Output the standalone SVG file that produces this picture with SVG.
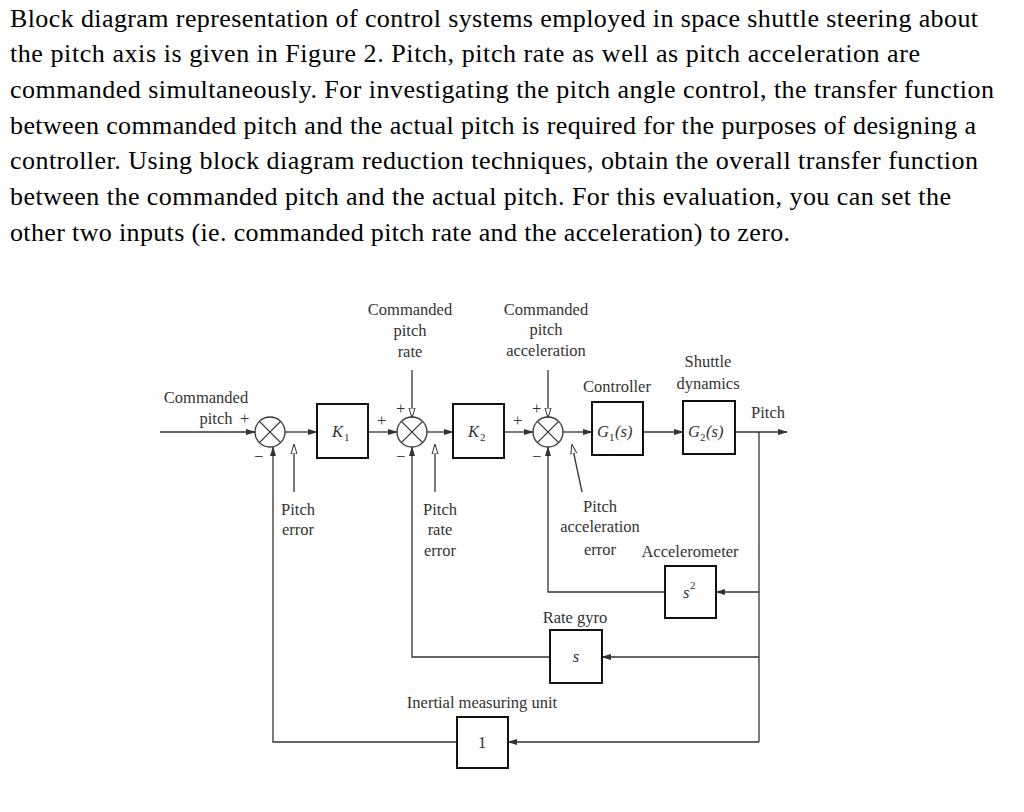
<svg xmlns="http://www.w3.org/2000/svg" width="1024" height="812" viewBox="0 0 1024 812">
<style>
.q{font-family:"Liberation Serif",serif;font-size:26px;fill:#000}
.t{font-family:"Liberation Serif",serif;font-size:16.5px;fill:#333}
.sub{font-family:"Liberation Serif",serif;font-size:11px;fill:#333}
.c{text-anchor:middle}
.i{font-style:italic}
.b{fill:#fff;stroke:#111;stroke-width:2}
.w{fill:none;stroke:#333;stroke-width:1.3}
.s{fill:#fff;stroke:#333;stroke-width:1.3}
</style>
<defs>
<marker id="a" markerWidth="10" markerHeight="8" refX="9" refY="4" orient="auto" markerUnits="userSpaceOnUse"><path d="M0,1 L10,4 L0,7 Z" fill="#333"/></marker>
<marker id="h" markerWidth="10" markerHeight="8" refX="9" refY="4" orient="auto" markerUnits="userSpaceOnUse"><path d="M0,1 L10,4 L0,7 Z" fill="#fff" stroke="#333"/></marker>
</defs>
<rect width="1024" height="812" fill="#fff"/>
<g id="question" class="q">
<text x="10" y="27" textLength="968" lengthAdjust="spacing">Block diagram representation of control systems employed in space shuttle steering about</text>
<text x="10" y="62" textLength="910" lengthAdjust="spacing">the pitch axis is given in Figure 2.  Pitch, pitch rate as well as pitch acceleration are</text>
<text x="10" y="98" textLength="984" lengthAdjust="spacing">commanded simultaneously.  For investigating the pitch angle control, the transfer function</text>
<text x="10" y="134" textLength="966" lengthAdjust="spacing">between commanded pitch and the actual pitch is required for the purposes of designing a</text>
<text x="10" y="169" textLength="968" lengthAdjust="spacing">controller.  Using block diagram reduction techniques, obtain the overall transfer function</text>
<text x="10" y="205" textLength="941" lengthAdjust="spacing">between the commanded pitch and the actual pitch.  For this evaluation, you can set the</text>
<text x="10" y="241" textLength="780" lengthAdjust="spacing">other two inputs (ie. commanded pitch rate and the acceleration) to zero.</text>
</g>
<g id="connectors" class="w">
<line x1="160" y1="432" x2="255" y2="432" marker-end="url(#a)"/>
<line x1="285" y1="432" x2="317" y2="432" marker-end="url(#a)"/>
<line x1="368" y1="432" x2="397" y2="432" marker-end="url(#a)"/>
<line x1="427" y1="432" x2="453" y2="432" marker-end="url(#a)"/>
<line x1="504" y1="432" x2="533" y2="432" marker-end="url(#a)"/>
<line x1="563" y1="432" x2="592" y2="432" marker-end="url(#a)"/>
<line x1="643" y1="432" x2="683" y2="432" marker-end="url(#a)"/>
<line x1="735" y1="432" x2="787" y2="432" marker-end="url(#a)"/>
<line x1="412" y1="370" x2="412" y2="417" marker-end="url(#h)"/>
<line x1="548" y1="370" x2="548" y2="417" marker-end="url(#h)"/>
<line x1="294" y1="492" x2="294" y2="445" marker-end="url(#h)"/>
<line x1="435" y1="492" x2="435" y2="445" marker-end="url(#h)"/>
<line x1="582" y1="492" x2="572" y2="445" marker-end="url(#h)"/>
<line x1="759" y1="432" x2="759" y2="742"/>
<line x1="759" y1="742" x2="508" y2="742" marker-end="url(#a)"/>
<line x1="759" y1="657" x2="602" y2="657" marker-end="url(#a)"/>
<line x1="759" y1="592" x2="716" y2="592" marker-end="url(#a)"/>
<polyline points="457,742 273,742 273,447" marker-end="url(#a)"/>
<polyline points="550,657 412,657 412,447" marker-end="url(#a)"/>
<polyline points="665,592 548,592 548,447" marker-end="url(#a)"/>
</g>
<g id="sum1"><circle class="s" cx="270" cy="432" r="15"/><path class="w" d="M259.4,421.4 L280.6,442.6 M280.6,421.4 L259.4,442.6"/></g>
<g id="sum2"><circle class="s" cx="412" cy="432" r="15"/><path class="w" d="M401.4,421.4 L422.6,442.6 M422.6,421.4 L401.4,442.6"/></g>
<g id="sum3"><circle class="s" cx="548" cy="432" r="15"/><path class="w" d="M537.4,421.4 L558.6,442.6 M558.6,421.4 L537.4,442.6"/></g>
<g id="K1"><rect class="b" x="317" y="404" width="51" height="54"/><text class="t i" x="332" y="437">K</text><text class="sub" x="344" y="441">1</text></g>
<g id="K2"><rect class="b" x="453" y="404" width="51" height="54"/><text class="t i" x="468" y="437">K</text><text class="sub" x="480" y="441">2</text></g>
<g id="G1"><rect class="b" x="592" y="402" width="51" height="53"/><text class="t i" x="597" y="437">G</text><text class="sub" x="609" y="441">1</text><text class="t i" x="615" y="437">(s)</text></g>
<g id="G2"><rect class="b" x="683" y="401" width="52" height="53"/><text class="t i" x="688" y="437">G</text><text class="sub" x="700" y="441">2</text><text class="t i" x="706" y="437">(s)</text></g>
<g id="accel"><rect class="b" x="665" y="566" width="51" height="52"/><text class="t i" x="683" y="598">s</text><text class="sub" x="690" y="589">2</text></g>
<g id="gyro"><rect class="b" x="550" y="630" width="52" height="53"/><text class="t i c" x="576" y="662">s</text></g>
<g id="imu"><rect class="b" x="457" y="717" width="51" height="51"/><text class="t c" x="482" y="748">1</text></g>
<g id="labels" class="t">
<text class="c" x="206" y="403">Commanded</text><text class="c" x="216" y="424">pitch</text>
<text x="240" y="424">+</text><text x="254" y="462">−</text>
<text x="377" y="426">+</text><text x="396" y="414">+</text><text x="396" y="462">−</text>
<text x="513" y="426">+</text><text x="532" y="414">+</text><text x="532" y="462">−</text>
<text class="c" x="410" y="315">Commanded</text><text class="c" x="410" y="336">pitch</text><text class="c" x="410" y="357">rate</text>
<text class="c" x="546" y="315">Commanded</text><text class="c" x="546" y="335">pitch</text><text class="c" x="546" y="356">acceleration</text>
<text class="c" x="617" y="392">Controller</text>
<text class="c" x="708" y="367">Shuttle</text><text class="c" x="708" y="389">dynamics</text>
<text class="c" x="768" y="418">Pitch</text>
<text class="c" x="298" y="515">Pitch</text><text class="c" x="298" y="535">error</text>
<text class="c" x="440" y="515">Pitch</text><text class="c" x="440" y="535">rate</text><text class="c" x="440" y="556">error</text>
<text class="c" x="600" y="512">Pitch</text><text class="c" x="600" y="532">acceleration</text><text class="c" x="600" y="555">error</text>
<text class="c" x="690" y="557">Accelerometer</text>
<text class="c" x="575" y="623">Rate gyro</text>
<text class="c" x="482" y="708">Inertial measuring unit</text>
</g>
</svg>
